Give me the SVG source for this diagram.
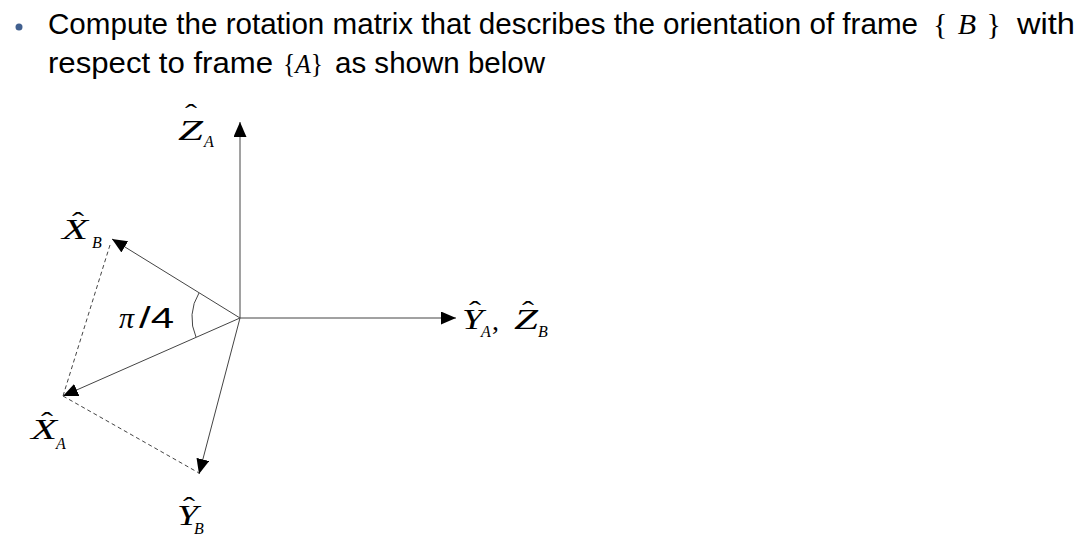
<svg xmlns="http://www.w3.org/2000/svg" width="1086" height="546" viewBox="0 0 1086 546">
<style>
.t{font-family:"Liberation Sans",Arial,sans-serif;font-size:29px;fill:#000}
.m{font-family:"Liberation Serif","Times New Roman",serif;fill:#000}
.i{font-style:italic}
.L{font-size:30px;font-style:italic}
.s{font-size:16px;font-style:italic}
.h{font-size:28px;text-anchor:middle}
.ax{stroke:#444;stroke-width:1;fill:none}
.d{stroke:#444;stroke-width:1;fill:none;stroke-dasharray:4,3}
</style>
<defs>
<marker id="ah" markerUnits="userSpaceOnUse" markerWidth="16" markerHeight="14" refX="15" refY="6.5" orient="auto">
<path d="M0,0 L15,6.5 L0,13 z" fill="#000"/>
</marker>
</defs>
<rect width="1086" height="546" fill="#fff"/>
<g id="title">
<circle cx="19" cy="27" r="3.5" fill="#41608f"/>
<text class="t" x="48" y="34" textLength="870" lengthAdjust="spacingAndGlyphs">Compute the rotation matrix that describes the orientation of frame</text>
<text class="m" x="933" y="34" font-size="30" textLength="68" lengthAdjust="spacing">{<tspan class="i">B</tspan>}</text>
<text class="t" x="1017" y="34" textLength="58" lengthAdjust="spacingAndGlyphs">with</text>
<text class="t" x="48" y="73" textLength="225" lengthAdjust="spacingAndGlyphs">respect to frame</text>
<text class="m" x="283" y="73" font-size="28" textLength="40" lengthAdjust="spacingAndGlyphs">{<tspan class="i">A</tspan>}</text>
<text class="t" x="335" y="73" textLength="210" lengthAdjust="spacingAndGlyphs">as shown below</text>
</g>
<g id="connectors">
<line class="ax" x1="240" y1="318" x2="240" y2="122" marker-end="url(#ah)"/>
<line class="ax" x1="240" y1="318" x2="456" y2="318" marker-end="url(#ah)"/>
<line class="ax" x1="240" y1="318" x2="112" y2="239" marker-end="url(#ah)"/>
<line class="ax" x1="240" y1="318" x2="63" y2="396" marker-end="url(#ah)"/>
<line class="ax" x1="240" y1="318" x2="199" y2="474" marker-end="url(#ah)"/>
<line class="d" x1="110" y1="245" x2="63" y2="396"/>
<line class="d" x1="63" y1="396" x2="199" y2="473"/>
<path class="ax" d="M199,293 A47,47 0 0 0 196,337"/>
</g>
<g id="label-ZA">
<text class="m h" x="191" y="123" textLength="12" lengthAdjust="spacingAndGlyphs">ˆ</text>
<text class="m L" x="178" y="140" textLength="25" lengthAdjust="spacingAndGlyphs">Z</text>
<text class="m s" x="204" y="147">A</text>
</g>
<g id="label-XB">
<text class="m h" x="78" y="231" textLength="12" lengthAdjust="spacingAndGlyphs">ˆ</text>
<text class="m L" x="62" y="239" textLength="26" lengthAdjust="spacingAndGlyphs">X</text>
<text class="m s" x="92" y="248">B</text>
</g>
<g id="label-angle">
<text class="m i" x="119" y="328" font-size="30">π</text>
<text class="t" x="139" y="328" font-size="28" textLength="35" lengthAdjust="spacingAndGlyphs">/4</text>
</g>
<g id="label-XA">
<text class="m h" x="47" y="431" textLength="12" lengthAdjust="spacingAndGlyphs">ˆ</text>
<text class="m L" x="31" y="439" textLength="26" lengthAdjust="spacingAndGlyphs">X</text>
<text class="m s" x="56" y="449">A</text>
</g>
<g id="label-YB">
<text class="m h" x="189" y="516" textLength="12" lengthAdjust="spacingAndGlyphs">ˆ</text>
<text class="m L" x="177" y="525" textLength="21" lengthAdjust="spacingAndGlyphs">Y</text>
<text class="m s" x="194" y="534">B</text>
</g>
<g id="label-YAZB">
<text class="m h" x="475" y="320" textLength="12" lengthAdjust="spacingAndGlyphs">ˆ</text>
<text class="m L" x="462" y="329" textLength="21" lengthAdjust="spacingAndGlyphs">Y</text>
<text class="m s" x="481" y="337">A</text>
<text class="m" x="492" y="330" font-size="28">,</text>
<text class="m h" x="528" y="320" textLength="12" lengthAdjust="spacingAndGlyphs">ˆ</text>
<text class="m L" x="514" y="329" textLength="24" lengthAdjust="spacingAndGlyphs">Z</text>
<text class="m s" x="538" y="337">B</text>
</g>
</svg>
